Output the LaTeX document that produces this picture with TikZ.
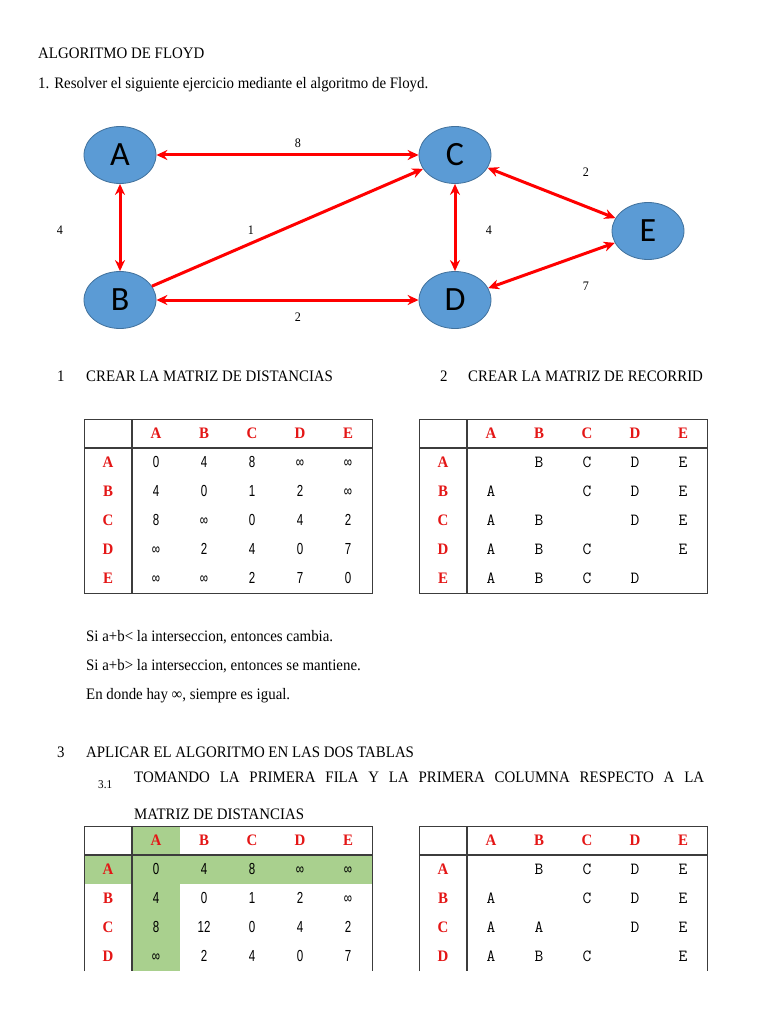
\documentclass[tikz,border=0pt]{standalone}
\usepackage{fontspec}
\setmainfont{Liberation Serif}[FakeStretch=0.93]
\newfontfamily\vertexfont{Carlito}
\newfontfamily\numfont{Liberation Sans}[FakeStretch=0.72]
\usepackage{xcolor}
\definecolor{NodeBlue}{RGB}{91, 155, 213}
\definecolor{NodeEdge}{RGB}{65, 113, 156}
\definecolor{EdgeRed}{RGB}{255, 0, 0}
\definecolor{HeadRed}{RGB}{228, 22, 22}
\definecolor{StepGreen}{RGB}{169, 208, 142}
\definecolor{RuleGray}{RGB}{60, 60, 60}
\usetikzlibrary{arrows.meta, positioning, shapes.geometric}

\begin{document}
\begin{tikzpicture}[x=1pt, y=-1pt,
    vertex/.style={ellipse, minimum width=72pt, minimum height=57pt, inner sep=0pt, fill=NodeBlue, draw=NodeEdge, thick, font=\vertexfont\fontsize{34}{34}\selectfont},
    edge/.style={arrows={Stealth[length=11pt, width=10pt]-Stealth[length=11pt, width=10pt]}, line width=3pt, EdgeRed},
    oneway/.style={arrows={-Stealth[length=11pt, width=10pt]}, line width=3pt, EdgeRed},
    weight/.style={inner sep=0pt, font=\fontsize{13}{13}\selectfont},
    body/.style={anchor=base west, inner sep=0pt, font=\fontsize{16}{19}\selectfont},
    head/.style={inner sep=0pt, text height=10pt, text depth=0pt, text=HeadRed, font=\bfseries\fontsize{16}{16}\selectfont},
    dist/.style={inner sep=0pt, text height=10pt, text depth=0pt, font=\numfont\fontsize{16}{16}\selectfont},
    route/.style={inner sep=0pt, text height=10pt, text depth=0pt, font=\ttfamily\fontsize{17}{17}\selectfont},
    frame/.style={draw=RuleGray, line width=0.9pt},
    sep/.style={draw=RuleGray, line width=1.6pt}
]
\useasboundingbox[fill=white] (0,0) rectangle (768,1024);

% Title and statement
\node[body] (title) at (38,59) {ALGORITMO DE FLOYD};
\node[body] (intro) at (38,89) {1. Resolver el siguiente ejercicio mediante el algoritmo de Floyd.};

% Graph
\node[vertex] (A) at (120,155) {A};
\node[vertex] (C) at (455,155) {C};
\node[vertex] (B) at (120,300) {B};
\node[vertex] (D) at (455,300) {D};
\node[vertex] (E) at (648,231) {E};

\draw[edge] (A) -- (C);
\draw[edge] (A) -- (B);
\draw[oneway] (B) -- (C);
\draw[edge] (C) -- (D);
\draw[edge] (B) -- (D);
\draw[edge] (C) -- (E);
\draw[edge] (D) -- (E);

% Weights
\node[weight] (wac) at (298,143) {8};
\node[weight] (wab) at (60,230) {4};
\node[weight] (wbc) at (251,230) {1};
\node[weight] (wcd) at (489,230) {4};
\node[weight] (wce) at (586,172) {2};
\node[weight] (wde) at (586,286) {7};
\node[weight] (wbd) at (298,317) {2};

% Steps 1 and 2
\node[body] (n1) at (57,381) {1};
\node[body] (s1) at (86,381) {CREAR LA MATRIZ DE DISTANCIAS};
\node[body] (n2) at (440,381) {2};
\node[body] (s2) at (468,381) {CREAR LA MATRIZ DE RECORRID};

% Distance matrix
\begin{scope}[shift={(84,419)}]
    \draw[frame] (0,0) rectangle (288,174);
    \draw[sep] (0,29) -- (288,29);
    \draw[sep] (48,0) -- (48,174);
    \foreach \h [count=\c] in {A,B,C,D,E} {
        \node[head] (dc-\c) at (24+48*\c, 14.5) {\h};
        \node[head] (dr-\c) at (24, 14.5+29*\c) {\h};
    }
    \foreach \vals [count=\r] in {{0,4,8,∞,∞},{4,0,1,2,∞},{8,∞,0,4,2},{∞,2,4,0,7},{∞,∞,2,7,0}} {
        \foreach \v [count=\c] in \vals {
            \node[dist] (d-\r-\c) at (24+48*\c, 14.5+29*\r) {\v};
        }
    }
\end{scope}

% Route matrix
\begin{scope}[shift={(419,419)}]
    \draw[frame] (0,0) rectangle (288,174);
    \draw[sep] (0,29) -- (288,29);
    \draw[sep] (48,0) -- (48,174);
    \foreach \h [count=\c] in {A,B,C,D,E} {
        \node[head] (rc-\c) at (24+48*\c, 14.5) {\h};
        \node[head] (rr-\c) at (24, 14.5+29*\c) {\h};
    }
    \foreach \vals [count=\r] in {{{},B,C,D,E},{A,{},C,D,E},{A,B,{},D,E},{A,B,C,{},E},{A,B,C,D,{}}} {
        \foreach \v [count=\c] in \vals {
            \node[route] (p-\r-\c) at (24+48*\c, 14.5+29*\r) {\v};
        }
    }
\end{scope}

% Rules
\node[body] (rule1) at (86,641) {Si a+b< la interseccion, entonces cambia.};
\node[body] (rule2) at (86,670) {Si a+b> la interseccion, entonces se mantiene.};
\node[body] (rule3) at (86,699) {En donde hay ∞, siempre es igual.};

% Step 3
\node[body] (n3) at (57,757) {3};
\node[body] (s3) at (86,757) {APLICAR EL ALGORITMO EN LAS DOS TABLAS};
\node[body, font=\fontsize{12}{12}\selectfont] (n31) at (98,788) {3.1};
\node[body] (s31) at (134,782) {\makebox[570pt][s]{TOMANDO LA PRIMERA FILA Y LA PRIMERA COLUMNA RESPECTO A LA}};
\node[body] (s31b) at (134,819) {MATRIZ DE DISTANCIAS};

% Distance matrix, first iteration
\begin{scope}[shift={(84,826)}]
    \fill[StepGreen] (48,0) rectangle (96,145);
    \fill[StepGreen] (0,29) rectangle (288,58);
    \draw[frame] (0,145) -- (0,0) -- (288,0) -- (288,145);
    \draw[sep] (0,29) -- (288,29);
    \draw[sep] (48,0) -- (48,145);
    \foreach \h [count=\c] in {A,B,C,D,E} {
        \node[head] (kc-\c) at (24+48*\c, 14.5) {\h};
    }
    \foreach \h [count=\r] in {A,B,C,D} {
        \node[head] (kr-\r) at (24, 14.5+29*\r) {\h};
    }
    \foreach \vals [count=\r] in {{0,4,8,∞,∞},{4,0,1,2,∞},{8,12,0,4,2},{∞,2,4,0,7}} {
        \foreach \v [count=\c] in \vals {
            \node[dist] (k-\r-\c) at (24+48*\c, 14.5+29*\r) {\v};
        }
    }
\end{scope}

% Route matrix, first iteration
\begin{scope}[shift={(419,826)}]
    \draw[frame] (0,145) -- (0,0) -- (288,0) -- (288,145);
    \draw[sep] (0,29) -- (288,29);
    \draw[sep] (48,0) -- (48,145);
    \foreach \h [count=\c] in {A,B,C,D,E} {
        \node[head] (qc-\c) at (24+48*\c, 14.5) {\h};
    }
    \foreach \h [count=\r] in {A,B,C,D} {
        \node[head] (qr-\r) at (24, 14.5+29*\r) {\h};
    }
    \foreach \vals [count=\r] in {{{},B,C,D,E},{A,{},C,D,E},{A,A,{},D,E},{A,B,C,{},E}} {
        \foreach \v [count=\c] in \vals {
            \node[route] (q-\r-\c) at (24+48*\c, 14.5+29*\r) {\v};
        }
    }
\end{scope}

\end{tikzpicture}
\end{document}
